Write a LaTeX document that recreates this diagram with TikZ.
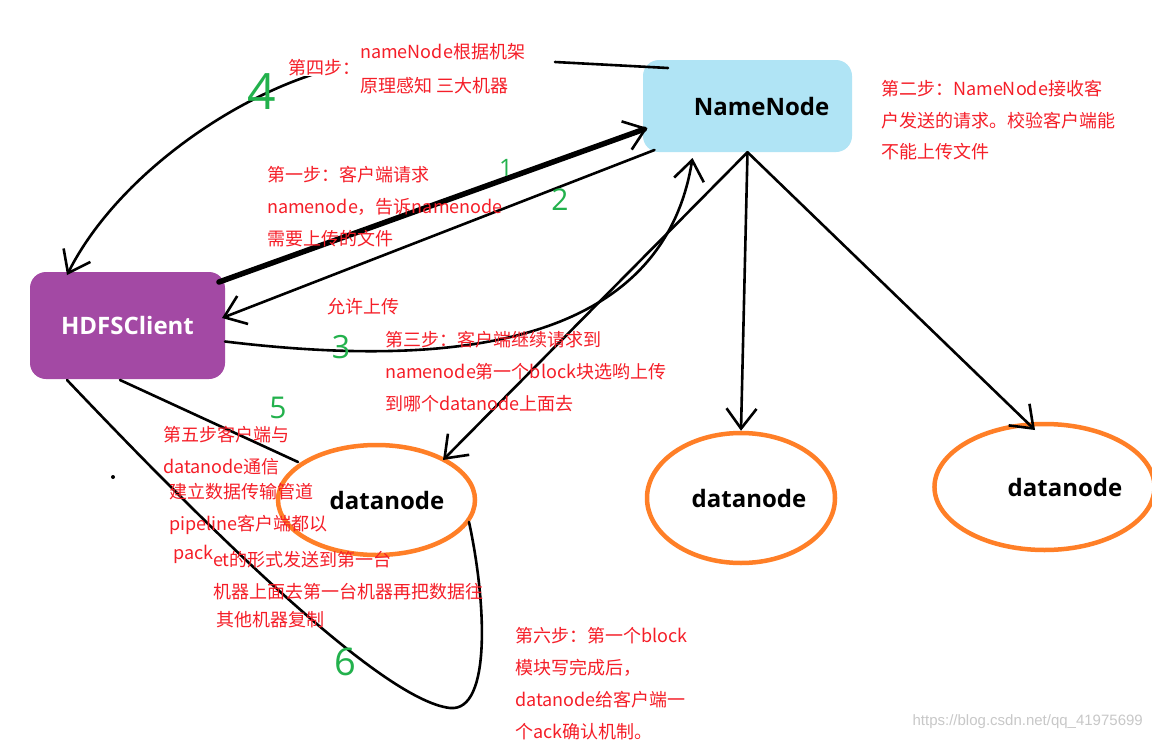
\documentclass[tikz,border=0pt]{standalone}
\usepackage{fontspec}
\setmainfont{Noto Sans CJK SC}
\newfontfamily\labfont{Open Sans}
\newfontfamily\wmfont{Liberation Sans}
\usetikzlibrary{shapes.geometric,arrows.meta,calc}
\definecolor{tred}{RGB}{245,30,40}
\definecolor{nnblue}{RGB}{176,228,245}
\definecolor{clpurple}{RGB}{163,73,164}
\definecolor{dnorange}{RGB}{255,127,39}
\definecolor{hgreen}{RGB}{34,177,76}
\definecolor{wmgray}{RGB}{200,200,200}
\tikzset{
  box/.style={rectangle, rounded corners=16pt, inner sep=0pt,
    font=\labfont\bfseries\fontsize{24}{24}\selectfont},
  dnode/.style={ellipse, draw=dnorange, line width=4.5pt, inner sep=0pt,
    font=\labfont\bfseries\fontsize{24}{24}\selectfont},
  ln/.style={line width=2.6pt, line cap=round},
  thickln/.style={line width=5.5pt, line cap=round},
  arr/.style={-{Straight Barb[length=20pt,width=30pt,line width=2.6pt]}},
  txt/.style={text=tred, anchor=north west, inner sep=0pt, align=left,
    font=\fontsize{18}{32}\selectfont},
  gnum/.style={text=hgreen, inner sep=0pt, font=\labfont\fontsize{#1}{#1}\selectfont},
}
\begin{document}
\begin{tikzpicture}[x=1pt,y=-1pt]
\useasboundingbox (0,0) rectangle (1152,742);
\fill[white] (0,0) rectangle (1152,742);

% nodes
\node[box, fill=nnblue, minimum width=209pt, minimum height=92pt] (nn) at (747.5,106) {\hspace*{28pt}NameNode};
\node[box, fill=clpurple, text=white, minimum width=195pt, minimum height=107pt] (cl) at (127.5,325.5) {\raisebox{-6pt}{HDFSClient}};
\node[dnode, minimum width=197pt, minimum height=110pt] (dn1) at (376.5,500) {\hspace*{21pt}datanode};
\node[dnode, minimum width=188pt, minimum height=130pt] (dn2) at (741,498) {\hspace*{16pt}datanode};
\node[dnode, minimum width=197pt, minimum height=126pt] (dn3) at (1044.5,487) {\hspace*{41pt}\raisebox{-6pt}{datanode}};

% connectors
\draw[thickln, arr] ($(cl.center)+(91.5,-43.5)$) -- ($(nn.center)+(-100,22)$);
\draw[ln, arr] ($(nn.center)+(-93,44)$) -- ($(cl.center)+(94.5,-7.5)$);
\draw[ln, arr] ($(cl.center)+(97.5,16)$) .. controls (420,365) and (660,360) .. ($(nn.center)+(-55,52)$);
\draw[ln, arr] (nn.south) -- ($(dn1.center)+(66.5,-40)$);
\draw[ln, arr] (nn.south) -- (dn2.north);
\draw[ln, arr] (nn.south) -- ($(dn3.center)+(-9.5,-57)$);
\draw[ln, arr] ($(nn.center)+(-79.5,-38)$) -- (555,62)
  (345,66) .. controls (250,85) and (120,170) .. ($(cl.center)+(-60.5,-50.5)$);
\draw[ln] ($(cl.center)+(-7.5,54.5)$) -- ($(dn1.center)+(-78.5,-38)$);
\draw[ln] ($(cl.center)+(-60.5,54.5)$) .. controls (200,520) and (380,700) .. (450,708)
  .. controls (492,712) and (486,600) .. ($(dn1.center)+(92.5,22)$);
\fill (113,477) circle (2pt);

% texts
\node[txt, fill=white] (t4a) at (288,59.5) {第四步：};
\node[txt, font=\fontsize{18}{34}\selectfont] (t4b) at (360,43.5) {nameNode根据机架\\原理感知 三大机器};
\node[txt, font=\fontsize{18}{31.5}\selectfont] (t2) at (881,80.5) {第二步：NameNode接收客\\户发送的请求。校验客户端能\\不能上传文件};
\node[txt] (t1) at (267,166.5) {第一步：客户端请求\\namenode，告诉namenode\\需要上传的文件};
\node[txt] (tok) at (327,298.5) {允许上传};
\node[txt] (t3) at (385,331.5) {第三步：客户端继续请求到\\namenode第一个block块选哟上传\\到哪个datanode上面去};
\node[txt] (t5a) at (163,426.5) {第五步客户端与\\datanode通信};
\node[txt] (t5b) at (169,483.5) {建立数据传输管道\\pipeline客户端都以};
\node[txt] (t5c) at (173,544.5) {pack};
\node[txt] (t5d) at (213,551.5) {et的形式发送到第一台};
\node[txt] (t5e) at (213,583.5) {机器上面去第一台机器再把数据往};
\node[txt] (t5f) at (216,611.5) {其他机器复制};
\node[txt] (t6) at (515,627.5) {第六步：第一个block\\模块写完成后，\\datanode给客户端一\\个ack确认机制。};

% green step numbers
\node[gnum=50] (g4) at (262,92) {4};
\node[gnum=24] (g1) at (506,168) {1};
\node[gnum=30] (g2) at (560,200) {2};
\node[gnum=32] (g3) at (341,347) {3};
\node[gnum=30] (g5) at (278,408) {5};
\node[gnum=38] (g6) at (345,662) {6};

% watermark
\node[text=wmgray, inner sep=0pt, anchor=east, font=\wmfont\fontsize{15}{15}\selectfont] (wm) at (1143,722) {https://blog.csdn.net/qq\_41975699};
\end{tikzpicture}
\end{document}
